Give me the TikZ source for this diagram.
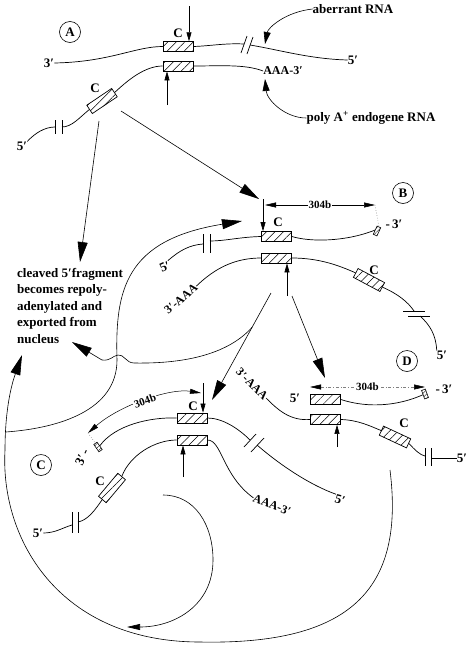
\documentclass[tikz,border=0pt]{standalone}
\usepackage{fontspec}
\setmainfont{Liberation Serif}
\usetikzlibrary{arrows.meta,patterns.meta,calc}
\begin{document}
\begin{tikzpicture}[x=1pt,y=-1pt,
  every node/.style={font=\bfseries\fontsize{13}{16}\selectfont, inner sep=0pt},
  strand/.style={line width=0.7pt},
  hb/.style={draw, line width=0.7pt, minimum width=30pt, minimum height=10pt, pattern={Lines[angle=45,distance=6pt,line width=0.5pt]}},
  sb/.style={draw, line width=0.6pt, minimum width=4pt, minimum height=9pt, pattern={Lines[angle=45,distance=3pt,line width=0.4pt]}},
  circ/.style={draw, circle, line width=0.6pt, minimum size=21pt},
  big/.style={line width=0.6pt, -{Triangle[length=20pt,width=10pt]}},
  cut/.style={line width=0.6pt, -{Triangle[length=9pt,width=5pt]}},
  med/.style={line width=0.6pt, -{Triangle[length=12pt,width=7pt]}},
  dimarr/.style={line width=0.5pt, {Triangle[length=11pt,width=5pt,color=black]}-{Triangle[length=11pt,width=5pt,color=black]}},
  brk/.style={line width=0.7pt},
  lbl/.style={fill=white, inner sep=1pt, font=\bfseries\fontsize{11}{13}\selectfont},
  sm/.style={font=\bfseries\fontsize{12}{14}\selectfont}
]
\useasboundingbox (0,0) rectangle (474,651);

% ---------- A ----------
\node[circ] (cA) at (70,32) {A};
\node[hb] (a1) at (178,46.5) {};
\node[hb] (a2) at (178,66) {};
\node (a1C) at (178,33) {C};
\coordinate (a1t) at (189,6);
\draw[cut] (a1t) -- (a1t |- a1.north);
\coordinate (a2t) at (167,105);
\draw[cut] (a2t) -- (a2t |- a2.south);
\node (a3) at (49,63) {3′};
\node (a5) at (353,60) {5′};
\node[sm] (aAAA) at (283,71) {AAA-3′};
\node[hb, rotate=34] (aS) at (102,101) {};
\node (aSC) at (95,88) {C};
\node (a5b) at (22,146) {5′};
\node (ab) at (353,9) {aberrant RNA};
\node (pa) at (371,118) {poly A\textsuperscript{+} endogene RNA};

\draw[strand] (a3.east) .. controls (110,62) and (135,46.5) .. (a1.west);
\coordinate (abk1) at (244,44); \coordinate (abk2) at (250,45);
\draw[strand] (a1.east) .. controls (210,46) and (225,43) .. (abk1);
\draw[strand] (abk2) .. controls (280,50) and (310,59) .. (a5.west);
\draw[brk] (241,53) -- (247,36);
\draw[brk] (247,54) -- (253,37);
\draw[strand] (a2.east) .. controls (220,66) and (245,64) .. (aAAA.west);
\draw[strand] (a2.west) .. controls (145,66) and (128,80) .. (aS.east);
\coordinate (abk3) at (62,127); \coordinate (abk4) at (55,127);
\draw[strand] (aS.west) .. controls (80,117) and (72,127) .. (abk3);
\draw[brk] (62,120) -- (62,134);
\draw[brk] (55,120) -- (55,134);
\draw[strand] (abk4) .. controls (45,127) and (35,133) .. (a5b.north east);

\coordinate (abT) at (265,44);
\draw[med] (ab.west) .. controls (285,12) and (268,28) .. (abT);
\coordinate (paT) at (265,79);
\draw[med] (pa.west) .. controls (285,118) and (267,100) .. (paT);

% ---------- cleaved text ----------
\node[align=left, anchor=north west, font=\bfseries\fontsize{13}{16.5}\selectfont] (cl) at (17,268)
  {cleaved 5′fragment\\becomes repoly-\\adenylated and\\exported from\\nucleus};
\coordinate (bigA1) at (99,121); \coordinate (clT) at (80,262);
\draw[big] (bigA1) -- (clT);
\coordinate (bigA2s) at (121,111); \coordinate (bigA2t) at (259,199);
\draw[big] (bigA2s) -- (bigA2t);

% ---------- B ----------
\node[circ] (cB) at (403,193) {B};
\node[hb] (b1) at (276.5,236.5) {};
\node[hb] (b2) at (276.5,258) {};
\node (b1C) at (278,222) {C};
\coordinate (b1t) at (263,199);
\draw[cut] (b1t) -- (b1t |- b1.north);
\coordinate (b2t) at (287,296);
\draw[cut] (b2t) -- (b2t |- b2.south);
\coordinate (bd1) at (265,205); \coordinate (bd2) at (375,205);
\draw[dimarr] (bd1) -- (bd2) node[lbl, midway] (b304) {304b};
\node[sb, rotate=-25] (bs) at (377,231) {};
\draw[dotted, gray, line width=0.6pt] (bd2) -- (bs.north);
\node (b3) at (394,224) {-\,3′};
\draw[strand] (b1.east) .. controls (310,242) and (345,242) .. (bs.west);
\coordinate (bbk1) at (210,241); \coordinate (bbk2) at (203,244);
\draw[strand] (b1.west) .. controls (240,237) and (225,241) .. (bbk1);
\draw[brk] (210,234) -- (210,253);
\draw[brk] (203,234) -- (203,253);
\node[rotate=25] (b5) at (165,267) {5′};
\draw[strand] (bbk2) .. controls (190,245) and (180,250) .. (b5.north east);
\node[hb, rotate=-28] (bC) at (369,280) {};
\node (bCC) at (374,270) {C};
\draw[strand] (b2.east) .. controls (320,258) and (340,266) .. (bC.west);
\coordinate (bbk3) at (414,311); \coordinate (bbk4) at (420,316);
\draw[strand] (bC.east) .. controls (398,294) and (408,302) .. (bbk3);
\draw[brk] (403,311) -- (425,311);
\draw[brk] (408,316) -- (430,316);
\node (b5b) at (442,355) {5′};
\draw[strand] (bbk4) .. controls (430,325) and (436,335) .. (b5b.north west);
\node[sm, rotate=40] (bAAA) at (181,299) {3′-AAA};
\draw[strand] (b2.west) .. controls (235,258) and (215,268) .. (bAAA.east);

% arrows out of B
\coordinate (bD1) at (292,296); \coordinate (bD2) at (325,378);
\draw[big] (bD1) -- (bD2);
\coordinate (bC1) at (271,293); \coordinate (bC2) at (212,400);
\draw[big] (bC1) -- (bC2);
\coordinate (brn) at ($(bC1)!0.32!(bC2)$);
\coordinate (clT2) at (72,342);
\draw[big] (brn) .. controls (230,352) and (190,364) .. (134,363)
   .. controls (126,363) and (124,354) .. (118,355)
   .. controls (112,356) and (111,361) .. (102,360) -- (clT2);

% big left curve back to B
\coordinate (lb0) at (6,432); \coordinate (lbT) at (242,221);
\draw[big] (lb0) .. controls (60,428) and (117,410) .. (117,360)
   .. controls (115,290) and (125,240) .. (lbT);

% outer arc to nucleus
\coordinate (oS) at (390,470); \coordinate (oT) at (22,355);
\draw[big] (oS) .. controls (405,590) and (350,645) .. (200,642)
   .. controls (60,642) and (0,540) .. (5,450)
   .. controls (5,400) and (15,375) .. (oT);

% inner loop
\coordinate (iS) at (163,495); \coordinate (iT) at (127,627);
\draw[line width=0.6pt, -{Triangle[length=13pt,width=6pt]}] (iS) .. controls (195,495) and (213,525) .. (213,560)
   .. controls (213,605) and (175,627) .. (iT);

% ---------- C ----------
\node[circ] (cC) at (41,465) {C};
\node[hb] (c1) at (192,418) {};
\node[hb] (c2) at (192,440) {};
\node (c1C) at (193,406) {C};
\coordinate (c1t) at (203,383);
\draw[cut] (c1t) -- (c1t |- c1.north);
\coordinate (c2t) at (183,477);
\draw[cut] (c2t) -- (c2t |- c2.south);
\coordinate (cd1) at (201,393); \coordinate (cd2) at (88,433);
\draw[dimarr] (cd1) .. controls (170,388) and (120,405) .. (cd2);
\node[lbl, rotate=19] (c304) at (145,401) {304b};
\node[sb, rotate=35] (cs) at (98,447) {};
\draw[dotted, gray, line width=0.6pt] (cd2) -- (cs.north);
\draw[strand] (c1.west) .. controls (150,417) and (115,425) .. (cs.east);
\node[rotate=65] (c3) at (82,457) {3′\,-};
\coordinate (cbk1) at (250,440); \coordinate (cbk2) at (257,445);
\draw[strand] (c1.east) .. controls (222,418) and (238,428) .. (cbk1);
\draw[brk] (244,447) -- (256,434);
\draw[brk] (251,452) -- (264,438);
\node[rotate=-15] (c5) at (340,500) {5′};
\draw[strand] (cbk2) .. controls (280,465) and (310,485) .. (c5.north west);
\node[sm, rotate=-21] (cAAA) at (272,505) {AAA-3′};
\draw[strand] (c2.east) .. controls (222,440) and (222,475) .. (cAAA.west);
\node[hb, rotate=50] (cS) at (112,488) {};
\node (cSC) at (100,481) {C};
\draw[strand] (c2.west) .. controls (155,440) and (130,455) .. (cS.east);
\coordinate (cbk3) at (78,522); \coordinate (cbk4) at (72,525);
\draw[strand] (cS.west) .. controls (95,510) and (88,520) .. (cbk3);
\draw[brk] (78,512) -- (78,533);
\draw[brk] (72,512) -- (72,533);
\node (c5b) at (38,533) {5′};
\draw[strand] (cbk4) .. controls (62,528) and (55,533) .. (c5b.east);

% ---------- D ----------
\node[circ] (cD) at (407,361) {D};
\node[hb] (d1) at (325.5,399.5) {};
\node[hb] (d2) at (325.5,419.5) {};
\node (d5) at (295,398) {5′};
\coordinate (dd1) at (310,387); \coordinate (dd2) at (425,387);
\draw[dimarr, gray, dash dot] (dd1) -- (dd2) node[lbl, midway, text=black] (d304) {304b};
\node[sb, rotate=20] (ds) at (425,394) {};
\node (d3) at (444,389) {-\,3′};
\draw[strand] (d1.east) .. controls (370,409) and (400,405) .. (ds.west);
\node[sm, rotate=-45] (dAAA) at (252,384) {3′-AAA};
\draw[strand] (d2.west) .. controls (290,421) and (278,410) .. (dAAA.east);
\coordinate (d2t) at (337,447);
\draw[cut] (d2t) -- (d2t |- d2.south);
\node[hb, rotate=-25] (dC) at (395,437) {};
\node (dCC) at (404,423) {C};
\draw[strand] (d2.east) .. controls (358,420) and (370,426) .. (dC.west);
\coordinate (dbk1) at (425,456); \coordinate (dbk2) at (431,458);
\draw[strand] (dC.east) .. controls (415,450) and (420,455) .. (dbk1);
\draw[brk] (425,448) -- (425,466);
\draw[brk] (431,448) -- (431,466);
\node (d5b) at (462,458) {5′};
\draw[strand] (dbk2) -- (d5b.west);
\end{tikzpicture}
\end{document}
